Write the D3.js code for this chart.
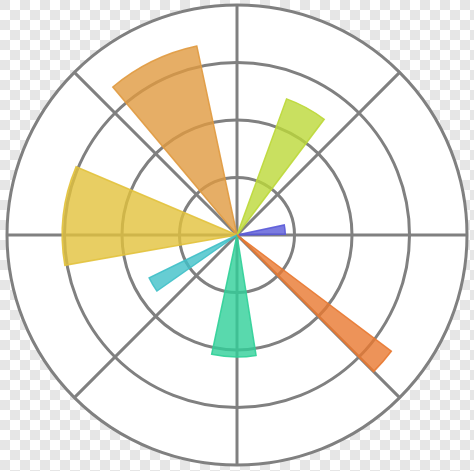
<!DOCTYPE html>
<html><head><meta charset="utf-8">
<script src="https://cdn.jsdelivr.net/npm/d3@7/dist/d3.min.js"></script>
<style>body{margin:0}svg{display:block}</style></head>
<body><svg width="474" height="471"></svg>
<script>
// bars: start/end angle in degrees (counter-clockwise from east), radius in data units
const barStart = [1, 102, 53, 157, 206, 258, 315];
const barEnd   = [12, 130, 70, 190, 215, 279, 323];
const barValue = [2.1, 8.4, 6.3, 7.6, 4.25, 5.3, 8.4];
const barColor = ["#5a5ad8", "#e09a40", "#bcd838", "#e2c23c", "#40c0c8", "#30d098", "#e87830"];
const ringValues = [2.5, 5, 7.5, 10];
const spokeAngles = [0, 45, 90, 135, 180, 225, 270, 315];

const svg = d3.select("svg");
const W = 474, H = 471, cx = 237, cy = 235;
const defs = svg.append("defs");
const pat = defs.append("pattern").attr("id","chk").attr("width",20).attr("height",20).attr("patternUnits","userSpaceOnUse");
pat.append("rect").attr("width",20).attr("height",20).attr("fill","#fff");
pat.append("rect").attr("width",10).attr("height",10).attr("fill","#e6e6e6");
pat.append("rect").attr("x",10).attr("y",10).attr("width",10).attr("height",10).attr("fill","#e6e6e6");
svg.append("rect").attr("width",W).attr("height",H).attr("fill","url(#chk)");

const r = d3.scaleLinear().domain([0,10]).range([0,230]);
const g = svg.append("g").attr("transform",`translate(${cx},${cy})`);
g.append("circle").attr("r", r(10)).attr("fill","#fff");

g.selectAll("circle.ring").data(ringValues).join("circle").attr("class","ring")
  .attr("r",d=>r(d)).attr("fill","none").attr("stroke","#808080").attr("stroke-width",3);
g.selectAll("line.spoke").data(spokeAngles).join("line").attr("class","spoke")
  .attr("x1",0).attr("y1",0)
  .attr("x2",a=>r(10)*Math.cos(a*Math.PI/180)).attr("y2",a=>-r(10)*Math.sin(a*Math.PI/180))
  .attr("stroke","#808080").attr("stroke-width",3);

const toRad = a => (90 - a) * Math.PI / 180;
const arc = d3.arc().innerRadius(0);
g.selectAll("path.bar").data(barValue).join("path").attr("class","bar")
  .attr("d",(v,i)=>arc({outerRadius:r(v), startAngle:toRad(barEnd[i]), endAngle:toRad(barStart[i])}))
  .attr("fill",(v,i)=>barColor[i]).attr("fill-opacity",0.8)
  .attr("stroke",(v,i)=>barColor[i]).attr("stroke-opacity",0.9).attr("stroke-width",1.5);
</script></body></html>
